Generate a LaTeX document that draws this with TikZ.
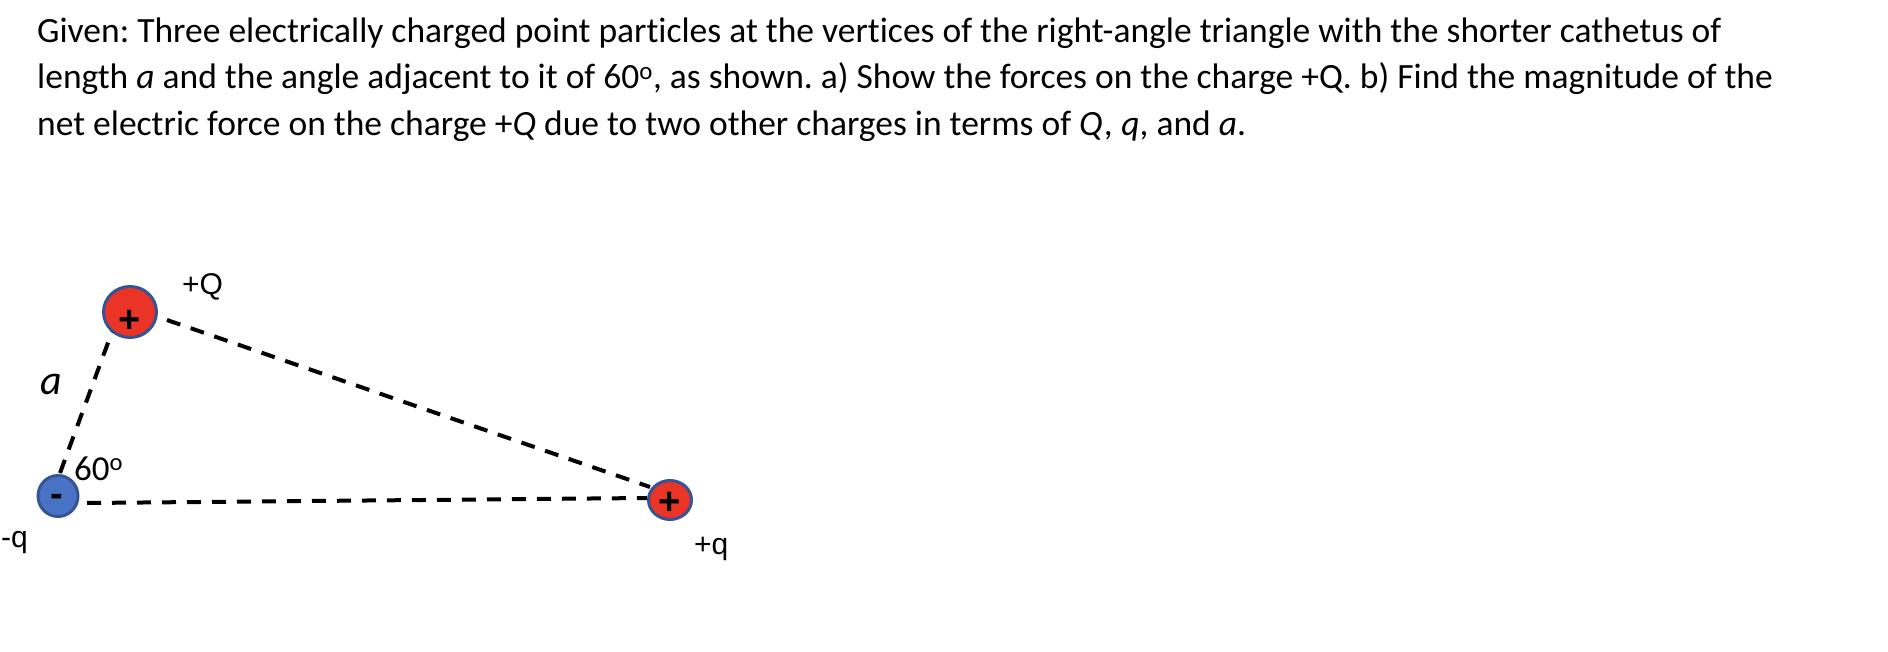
\documentclass[tikz,border=0pt]{standalone}
\usepackage{fontspec}
\setmainfont{Carlito}[Ligatures=NoCommon]
\newfontfamily\arialf{Liberation Sans}
\usetikzlibrary{shapes.geometric,calc}
\definecolor{chred}{RGB}{233,52,38}
\definecolor{chblue}{RGB}{72,114,196}
\definecolor{chedge}{RGB}{52,84,150}
\frenchspacing
\begin{document}
\begin{tikzpicture}[x=1pt,y=-1pt,
  heading/.style={anchor=base west, inner sep=0pt, font=\fontsize{35.5}{40}\selectfont},
  charge/.style={ellipse, draw=chedge, line width=3pt, inner sep=0pt},
  sign/.style={inner sep=0pt, font=\arialf\fontsize{38}{40}\selectfont},
  lbl/.style={anchor=base west, inner sep=0pt, font=\arialf\fontsize{30}{32}\selectfont},
  link/.style={draw=black, line width=4pt, dash pattern=on 14pt off 11pt}]
\useasboundingbox (0,0) rectangle (1888,652);

\node[heading] (line1) at (37,43) {Given: Three electrically charged point particles at the vertices of the right-angle triangle with the shorter cathetus of};
\node[heading] (line2) at (37,89) {length \textit{a} and the angle adjacent to it of 60\textsuperscript{o}, as shown. a) Show the forces on the charge +Q. b) Find the magnitude of the};
\node[heading] (line3) at (37,136) {net electric force on the charge +\textit{Q} due to two other charges in terms of \textit{Q, q}, and \textit{a}.};

\node[charge, fill=chred, minimum width=53pt, minimum height=51pt] (Qp) at (130,312) {};
\node[charge, fill=chblue, minimum width=40pt, minimum height=41pt] (qm) at (58,496) {};
\node[charge, fill=chred, minimum width=43pt, minimum height=39pt] (qp) at (670,500) {};

\draw[link] ($(Qp)+(37,8)$) -- ($(qp)+(-20,-13)$);
\draw[link] ($(qm)+(29,7)$) -- ($(qp)+(-23,-2)$);
\draw[link] ($(qm)+(2,-23)$) -- ($(Qp)+(-18,20)$);

\node[sign] (Qps) at (130,321) {\textbf{+}};
\node[sign] (qms) at (57,500) {\textbf{-}};
\node[sign] (qps) at (670,503) {\textbf{+}};

\node[lbl] (Qlab) at (182,295) {+Q};
\node[anchor=base west, inner sep=0pt, font=\fontsize{42}{44}\selectfont\itshape] (alab) at (40,395) {a};
\node[anchor=base west, inner sep=0pt, font=\fontsize{35}{38}\selectfont] (anglab) at (74,480) {60\textsuperscript{o}};
\node[lbl] (qmlab) at (1,547) {-q};
\node[lbl] (qplab) at (694,554) {+q};
\end{tikzpicture}
\end{document}
